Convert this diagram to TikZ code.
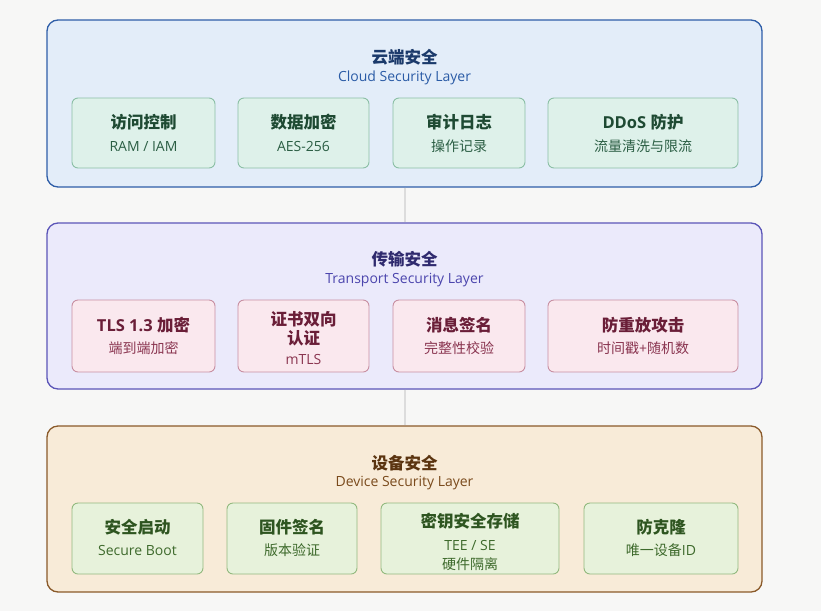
\documentclass[tikz,border=0pt]{standalone}
\usepackage{fontspec}
\setmainfont{Open Sans}
\newfontfamily\cjk{Noto Sans CJK SC}
\usetikzlibrary{fit}
\definecolor{bgc}{HTML}{F7F7F6}
\definecolor{cfill}{HTML}{E3EDF9}\definecolor{cdraw}{HTML}{2F5EA8}
\definecolor{ctitle}{HTML}{1B3A6B}\definecolor{csub}{HTML}{2A5BA6}
\definecolor{cbfill}{HTML}{DEF1EA}\definecolor{cbdraw}{HTML}{8BBFA5}
\definecolor{cbt}{HTML}{1E4A33}\definecolor{cbs}{HTML}{2B5E44}
\definecolor{tfill}{HTML}{EBEAFB}\definecolor{tdraw}{HTML}{5B55B8}
\definecolor{ttitle}{HTML}{2F2A6E}\definecolor{tsub}{HTML}{4B45AD}
\definecolor{tbfill}{HTML}{FAE8EE}\definecolor{tbdraw}{HTML}{C88FA2}
\definecolor{tbt}{HTML}{6A1E38}\definecolor{tbs}{HTML}{8A3550}
\definecolor{dfill}{HTML}{F8EBD8}\definecolor{ddraw}{HTML}{8A5A2A}
\definecolor{dtitle}{HTML}{5B3410}\definecolor{dsub}{HTML}{7A4A1C}
\definecolor{dbfill}{HTML}{E7F2DB}\definecolor{dbdraw}{HTML}{92B97E}
\definecolor{dbt}{HTML}{2E5520}\definecolor{dbs}{HTML}{3E6A2C}
\definecolor{linkc}{HTML}{DCDCDC}
\tikzset{
  panel/.style={rounded corners=11pt, line width=1.3pt, inner sep=0pt},
  ibox/.style={rounded corners=6pt, line width=0.9pt, inner sep=0pt},
  ptitle/.style={font=\fontsize{16.5}{19}\selectfont\bfseries, inner sep=0pt},
  psub/.style={font=\fontsize{14}{17}\selectfont, inner sep=0pt},
  btitle/.style={font=\fontsize{16.5}{19}\selectfont\bfseries, inner sep=0pt},
  bsub/.style={font=\fontsize{14}{17}\selectfont, inner sep=0pt},
  link/.style={draw=linkc, line width=2pt}
}
\begin{document}
\begin{tikzpicture}[x=1pt,y=-1pt]
\fill[bgc] (0,0) rectangle (821,611);
\useasboundingbox (0,0) rectangle (821,611);
% panels
\node[panel, draw=cdraw, fill=cfill, fit={(47,20) (762,187)}] (cloud) {};
\node[panel, draw=tdraw, fill=tfill, fit={(47,223) (762,389)}] (trans) {};
\node[panel, draw=ddraw, fill=dfill, fit={(47,426) (762,592)}] (dev) {};
\draw[link] (cloud.south) -- (trans.north);
\draw[link] (trans.south) -- (dev.north);
% cloud
\node[ptitle, text=ctitle] (ct) at (404.5,57) {\cjk 云端安全};
\node[psub, text=csub] (cs) at (404.5,78) {Cloud Security Layer};
\node[ibox, draw=cbdraw, fill=cbfill, fit={(72,98) (215,168)}] (c1) {};
\node[ibox, draw=cbdraw, fill=cbfill, fit={(238,98) (369,168)}] (c2) {};
\node[ibox, draw=cbdraw, fill=cbfill, fit={(393,98) (525,168)}] (c3) {};
\node[ibox, draw=cbdraw, fill=cbfill, fit={(548,98) (738,168)}] (c4) {};
\node[btitle, text=cbt] at (143.5,122) {\cjk 访问控制};
\node[bsub, text=cbs] at (143.5,146) {RAM / IAM};
\node[btitle, text=cbt] at (303.5,122) {\cjk 数据加密};
\node[bsub, text=cbs] at (303.5,146) {AES-256};
\node[btitle, text=cbt] at (459,122) {\cjk 审计日志};
\node[bsub, text=cbs] at (459,146) {\cjk 操作记录};
\node[btitle, text=cbt] at (643,122) {DDoS {\cjk 防护}};
\node[bsub, text=cbs] at (643,146) {\cjk 流量清洗与限流};
% transport
\node[ptitle, text=ttitle] (tt) at (404.5,259) {\cjk 传输安全};
\node[psub, text=tsub] (ts) at (404.5,280) {Transport Security Layer};
\node[ibox, draw=tbdraw, fill=tbfill, fit={(72,300) (215,372)}] (t1) {};
\node[ibox, draw=tbdraw, fill=tbfill, fit={(238,300) (369,372)}] (t2) {};
\node[ibox, draw=tbdraw, fill=tbfill, fit={(393,300) (525,372)}] (t3) {};
\node[ibox, draw=tbdraw, fill=tbfill, fit={(548,300) (738,372)}] (t4) {};
\node[btitle, text=tbt] at (143.5,325) {TLS 1.3 {\cjk 加密}};
\node[bsub, text=tbs] at (143.5,348) {\cjk 端到端加密};
\node[btitle, text=tbt] at (303.5,319) {\cjk 证书双向};
\node[btitle, text=tbt] at (303.5,338) {\cjk 认证};
\node[bsub, text=tbs] at (303.5,359) {mTLS};
\node[btitle, text=tbt] at (459,325) {\cjk 消息签名};
\node[bsub, text=tbs] at (459,348) {\cjk 完整性校验};
\node[btitle, text=tbt] at (643,325) {\cjk 防重放攻击};
\node[bsub, text=tbs] at (643,348) {{\cjk 时间戳}+{\cjk 随机数}};
% device
\node[ptitle, text=dtitle] (dt) at (404.5,463) {\cjk 设备安全};
\node[psub, text=dsub] (ds) at (404.5,483) {Device Security Layer};
\node[ibox, draw=dbdraw, fill=dbfill, fit={(72,503) (203,574)}] (d1) {};
\node[ibox, draw=dbdraw, fill=dbfill, fit={(227,503) (357,574)}] (d2) {};
\node[ibox, draw=dbdraw, fill=dbfill, fit={(381,503) (559,574)}] (d3) {};
\node[ibox, draw=dbdraw, fill=dbfill, fit={(584,503) (738,574)}] (d4) {};
\node[btitle, text=dbt] at (137.5,527) {\cjk 安全启动};
\node[bsub, text=dbs] at (137.5,550) {Secure Boot};
\node[btitle, text=dbt] at (292,527) {\cjk 固件签名};
\node[bsub, text=dbs] at (292,550) {\cjk 版本验证};
\node[btitle, text=dbt] at (470,521) {\cjk 密钥安全存储};
\node[bsub, text=dbs] at (470,545) {TEE / SE};
\node[bsub, text=dbs] at (470,564) {\cjk 硬件隔离};
\node[btitle, text=dbt] at (661,527) {\cjk 防克隆};
\node[bsub, text=dbs] at (661,550) {{\cjk 唯一设备}ID};
\end{tikzpicture}
\end{document}
